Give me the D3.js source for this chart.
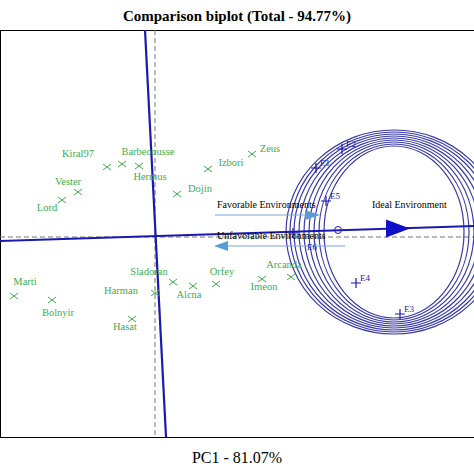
<!DOCTYPE html><html><head><script src="https://cdn.jsdelivr.net/npm/d3@7"></script>
<style>body{margin:0;background:#fff}</style></head><body><svg id="c" width="474" height="474"></svg>
<script>
const genotypes = ["Kiral97","Barbecousse","Hermus","Vester","Lord","Dojin","Izbori","Zeus","Sladoran","Alcna","Orfey","Harman","Marti","Bolnyir","Hasat","Imeon","Arcanda"];
const genoPC1 = [-4.8,-3.3,-1.6,-7.7,-9.3,2.2,5.3,9.7,1.8,3.8,6.1,0.0,-14.1,-10.3,-2.3,10.7,13.6];
const genoPC2 = [7.0,7.3,7.1,4.5,3.7,4.3,6.8,8.3,-4.5,-4.9,-4.7,-5.6,-5.9,-6.3,-8.2,-4.2,-4.0];
const genoLabX = [-2.9,2.6,1.1,-1.0,-1.5,2.3,2.3,1.8,-2.4,-0.4,0.6,-3.4,1.1,0.6,-0.7,0.2,-0.7];
const genoLabY = [1.3,1.2,-1.1,1.0,-0.8,0.5,0.6,0.5,1.0,-0.9,1.2,0.2,1.4,-1.3,-0.8,-0.8,1.2];
const envs = ["E1","E2","E5","E6","E4","E3"];
const envPC1 = [16.1,18.7,17.1,13.8,20.1,24.5];
const envPC2 = [6.9,8.8,3.6,0.4,-4.6,-7.7];
const envLabX = [0.4,0.4,0.4,1.4,0.4,0.4];
const envLabY = [0.1,0.1,0.1,-1.8,0.1,0.1];
const centerPC = [23.9,0.5];
const ringRadX = [7.0,7.5,8.0,8.5,9.0,9.5,10.0,10.4,10.8];
const ringRadY = [8.6,8.8,9.0,9.2,9.4,9.6,9.8,10.0,10.2];

const svg=d3.select("#c");
const x=d3.scaleLinear().domain([-15.5,31.9]).range([0,474]);
const y=d3.scaleLinear().domain([-23.7,23.7]).range([474,0]);
const serif="'Liberation Serif','DejaVu Serif',serif";

svg.append("text").attr("x",237).attr("y",21).attr("text-anchor","middle").attr("font-family",serif).attr("font-weight","bold").attr("font-size",15).text("Comparison biplot (Total - 94.77%)");
svg.append("text").attr("x",237).attr("y",463).attr("text-anchor","middle").attr("font-family",serif).attr("font-size",16).text("PC1 - 81.07%");
svg.append("rect").attr("x",0.5).attr("y",30.5).attr("width",480).attr("height",407).attr("fill","none").attr("stroke","#000");

const g=svg.append("g");
g.append("line").attr("x1",x(-15.5)).attr("x2",x(31.9)).attr("y1",y(0)).attr("y2",y(0)).attr("stroke","#777").attr("stroke-dasharray","5,3");
g.append("line").attr("x1",x(0)).attr("x2",x(0)).attr("y1",y(20.7)).attr("y2",y(-20)).attr("stroke","#777").attr("stroke-dasharray","5,3");

ringRadX.forEach((r,i)=>{
  g.append("ellipse").attr("cx",x(centerPC[0])).attr("cy",y(centerPC[1])).attr("rx",x(r)-x(0)).attr("ry",y(0)-y(ringRadY[i])).attr("fill","none").attr("stroke","#3a3aa8").attr("stroke-width",1.2);
});

g.append("line").attr("x1",x(-15.5)).attr("y1",y(-0.4)).attr("x2",x(31.9)).attr("y2",y(1.1)).attr("stroke","#1a1ab0").attr("stroke-width",2);
g.append("line").attr("x1",x(-1.0)).attr("y1",y(20.7)).attr("x2",x(1.1)).attr("y2",y(-20)).attr("stroke","#1a1ab0").attr("stroke-width",2.2);
const ax=x(24.5),ay=y(0.85);
g.append("path").attr("d",`M${ax-14},${ay-9}L${ax+10},${ay}L${ax-14},${ay+9}Z`).attr("fill","#1010c8");
g.append("circle").attr("cx",x(18.3)).attr("cy",y(0.7)).attr("r",3.5).attr("fill","none").attr("stroke","#1a1ab0");

svg.append("text").attr("x",x(6.2)).attr("y",y(2.9)).attr("font-family",serif).attr("font-size",10).text("Favorable Environments");
g.append("line").attr("x1",x(6.0)).attr("x2",x(16.0)).attr("y1",y(2.2)).attr("y2",y(2.2)).attr("stroke","#7aa7d8").attr("stroke-width",1.2);
g.append("path").attr("d",`M${x(15.0)},${y(2.2)-5}L${x(16.5)},${y(2.2)}L${x(15.0)},${y(2.2)+5}Z`).attr("fill","#5b9bd5");
svg.append("text").attr("x",x(6.2)).attr("y",y(-0.2)).attr("font-family",serif).attr("font-size",10).text("Unfavorable Environments");
g.append("line").attr("x1",x(6.3)).attr("x2",x(19.0)).attr("y1",y(-0.9)).attr("y2",y(-0.9)).attr("stroke","#7aa7d8").attr("stroke-width",1.2);
g.append("path").attr("d",`M${x(7.3)},${y(-0.9)-5}L${x(5.9)},${y(-0.9)}L${x(7.3)},${y(-0.9)+5}Z`).attr("fill","#5b9bd5");
svg.append("text").attr("x",x(21.7)).attr("y",y(2.9)).attr("font-family",serif).attr("font-size",10).text("Ideal Environment");

const green="#3dae4a";
genotypes.forEach((n,i)=>{
  const px=x(genoPC1[i]),py=y(genoPC2[i]);
  g.append("path").attr("d",`M${px-4},${py-3}L${px+4},${py+3}M${px-4},${py+3}L${px+4},${py-3}`).attr("stroke",green).attr("stroke-width",1);
  g.append("text").attr("x",x(genoPC1[i]+genoLabX[i])).attr("y",y(genoPC2[i]+genoLabY[i])+3).attr("text-anchor","middle").attr("font-family",serif).attr("font-size",10.5).attr("fill",green).text(n);
});
envs.forEach((n,i)=>{
  const px=x(envPC1[i]),py=y(envPC2[i]);
  g.append("path").attr("d",`M${px-5},${py}L${px+5},${py}M${px},${py-5}L${px},${py+5}`).attr("stroke","#1a1ab0").attr("stroke-width",1.2);
  g.append("text").attr("x",x(envPC1[i]+envLabX[i])).attr("y",y(envPC2[i]+envLabY[i])-1).attr("font-family",serif).attr("font-size",9).attr("fill","#1a1ab0").text(n);
});
</script></body></html>
